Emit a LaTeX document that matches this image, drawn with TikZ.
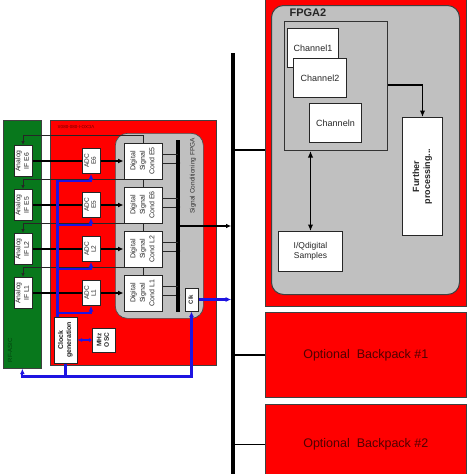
\documentclass[tikz,border=0pt]{standalone}
\usepackage{fontspec}
\setmainfont{Liberation Sans}
\usepackage{graphicx}
\usepackage{xcolor}
\usepackage{tikz}
\usetikzlibrary{arrows.meta,positioning,calc}

\definecolor{asicgreen}{RGB}{8,120,28}
\definecolor{boardred}{RGB}{255,0,0}
\definecolor{fpgagray}{RGB}{192,192,192}
\definecolor{clkblue}{RGB}{30,20,225}
\definecolor{darkred}{RGB}{80,0,0}

\newcommand{\vtext}[1]{\rotatebox{90}{\begin{tabular}{@{}c@{}}#1\end{tabular}}}

\tikzset{
  board/.style={draw=black!75, line width=0.7pt, inner sep=0pt, anchor=north west},
  blk/.style={draw=black!85, fill=white, line width=1pt, inner sep=0pt, align=center, text=black!85},
  sig/.style={line width=1.8pt, black},
  fb/.style={line width=0.8pt, black!85, -{Latex[length=4pt,width=3.5pt]}},
  tap/.style={line width=0.8pt, black!85},
  clk/.style={line width=2.2pt, clkblue, -{Latex[length=5.5pt,width=5pt]}},
  bus/.style={line width=3.6pt, black},
  link/.style={line width=1.4pt, black},
}

\begin{document}
\begin{tikzpicture}[x=1pt, y=-1pt]
\useasboundingbox (0,0) rectangle (474,474);

% Boards
\node[board, fill=asicgreen, minimum width=38pt, minimum height=248pt] (asic) at (3,120) {};
\node[board, fill=boardred, minimum width=166pt, minimum height=245pt] (rxboard) at (50,120) {};
\node[board, fill=fpgagray, draw=black!70, rounded corners=12pt, minimum width=88pt, minimum height=185pt] (scfpga) at (115,133) {};
\node[board, fill=boardred, minimum width=201pt, minimum height=309pt] (fpgaboard) at (265,-3) {};
\node[board, fill=fpgagray, line width=1pt, rounded corners=12pt, minimum width=188pt, minimum height=289pt] (fpga2) at (271,5) {};
\node[board, fill=boardred, minimum width=201pt, minimum height=85pt, font=\fontsize{12.5}{14}\selectfont, text=darkred] (bp1) at (265,312) {Optional\ \ Backpack \#1};
\node[board, fill=boardred, minimum width=201pt, minimum height=80pt, font=\fontsize{12.5}{14}\selectfont, text=darkred] (bp2) at (265,404) {Optional\ \ Backpack \#2};

% Board labels
\node[rotate=90, font=\fontsize{6}{6}\selectfont, text=black!45!asicgreen] (asiclab) at (10,350) {RF-ASIC};
\node[rotate=90, font=\fontsize{6.5}{7}\selectfont, text=black!80] (sclab) at (193,176) {Signal Conditioning FPGA};
\node[rotate=180, font=\fontsize{4.5}{4.5}\selectfont, text=black!60!red] (vcxolab) at (76,127) {VCXO-I-080-080X};

% Buses
\coordinate (sbt) at (178,140);
\coordinate (sbb) at (178,312);
\draw[bus] (sbt) -- (sbb);
\coordinate (mbt) at (233,53);
\coordinate (mbb) at (233,476);
\draw[bus] (mbt) -- (mbb);

% Receiver channels
\foreach \y/\ifn/\adcn/\dscn [count=\i] in {161/E6/E6/E5, 205/E5/E5/E6, 249/L2/L2/L2, 293/L1/L1/L1} {
  \node[blk, minimum width=18pt, minimum height=31pt, font=\fontsize{6.8}{8.5}\selectfont] (if\i) at (23,\y) {\vtext{Analog\\IF \ifn}};
  \node[blk, minimum width=18pt, minimum height=25pt, font=\fontsize{6.5}{7}\selectfont] (adc\i) at (91,\y) {\vtext{ADC\\\adcn}};
  \node[blk, minimum width=38pt, minimum height=36pt, font=\fontsize{7}{9.5}\selectfont] (dsc\i) at (143,\y) {\vtext{Digital\\Signal\\Cond \dscn}};
  \draw[sig] (if\i) -- (adc\i);
  \draw[sig, -{Latex[length=5.5pt,width=5pt]}] (adc\i) -- (dsc\i);
  \draw[fb] (dsc\i.north) |- ($(if\i.north)+(0,-10)$) -- (if\i.north);
  \draw[tap] ($(dsc\i.east)+(0,-7)$) -- ($(sbt |- dsc\i.east)+(0,-7)$);
  \draw[tap] ($(dsc\i.east)+(0,2)$) -- ($(sbt |- dsc\i.east)+(0,2)$);
  \fill ($(sbt |- dsc\i.east)+(0,2)$) circle (2.2);
}

% Clocking
\node[blk, minimum width=23pt, minimum height=46pt, font=\bfseries\fontsize{7}{8}\selectfont] (clkgen) at (65.5,340) {\vtext{Clock\\generation}};
\node[blk, minimum width=23pt, minimum height=24pt, font=\bfseries\fontsize{6.5}{7.5}\selectfont] (osc) at (103.5,340) {\vtext{MHz\\OSC}};
\node[blk, minimum width=13pt, minimum height=23pt, font=\bfseries\fontsize{6}{6}\selectfont] (clkbox) at (191.5,299.5) {\vtext{Clk}};

\coordinate (ctrunk) at ($(clkgen.north west)+(4,0)$);
\draw[clk, -] (ctrunk) -- ($(ctrunk |- adc1.south)+(0,7)$);
\foreach \i in {1,...,4}
  \draw[clk] (ctrunk) |- ($(adc\i.south)+(0,7)$) -- (adc\i.south);
\draw[clk] (clkgen.south) -- ++(0,13) -| (asic.south);
\draw[clk] (clkgen.south) -- ++(0,13) -| (clkbox.south);
\draw[clk, line width=1.1pt, {Circle[length=3.5pt]}-{Latex[length=4.5pt,width=4pt]}] (osc.west) -- (clkgen.east);
\draw[clk, shorten >=1.8pt] (clkbox.east) -- (clkbox.east -| mbt);

% Links to the backplane
\coordinate (scout) at (178,226);
\draw[link, -{Latex[length=5pt,width=4.5pt]}, shorten >=1.8pt] (scout) -- (scout -| mbt);
\coordinate (f2in) at (265,150);
\draw[link] (f2in -| mbt) -- (f2in);
\draw[link] (bp1.west -| mbt) -- (bp1.west);
\draw[link] (bp2.west -| mbt) -- (bp2.west);

% FPGA2
\node[anchor=west, font=\bfseries\fontsize{11}{11}\selectfont, text=black!85] (f2lab) at (286,12.5) {FPGA2};
\node[board, fill=fpgagray, draw=black!80, line width=1pt, minimum width=103pt, minimum height=129pt] (chgrp) at (284,21) {};
\node[blk, anchor=north west, minimum width=51pt, minimum height=39pt, font=\fontsize{9}{10}\selectfont] (ch1) at (287,28) {Channel1};
\node[blk, anchor=north west, minimum width=53pt, minimum height=39pt, font=\fontsize{9}{10}\selectfont] (ch2) at (293,58) {Channel2};
\node[blk, anchor=north west, minimum width=52pt, minimum height=39pt, font=\fontsize{9}{10}\selectfont] (chn) at (309,103) {Channeln};
\node[blk, anchor=north west, minimum width=40pt, minimum height=118pt, font=\bfseries\fontsize{9}{11}\selectfont] (further) at (402,117) {\raisebox{-8pt}{\vtext{Further\\processing...}}};
\node[blk, anchor=north west, minimum width=64pt, minimum height=40pt, font=\fontsize{8.5}{10.5}\selectfont] (iq) at (278,231) {I/Qdigital\\Samples};

\draw[sig, -{Latex[length=6.5pt,width=5.5pt]}] ($(chgrp.north east)+(0,64)$) -| (further.north);
\draw[sig, {Latex[length=6.5pt,width=5.5pt]}-{Latex[length=6.5pt,width=5.5pt]}] (iq.north |- chgrp.south) -- (iq.north);
\end{tikzpicture}
\end{document}
